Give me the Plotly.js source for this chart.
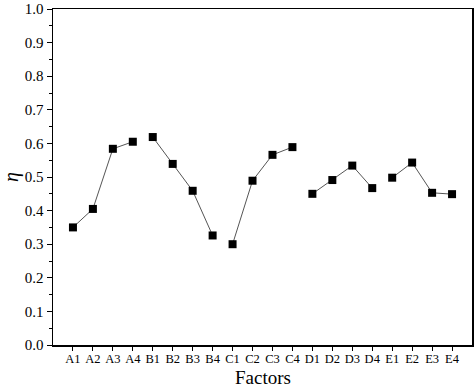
<!DOCTYPE html>
<html><head><meta charset="utf-8">
<script src="https://cdn.plot.ly/plotly-3.0.1.min.js"></script>
<style>html,body{margin:0;padding:0;background:#fff}</style>
</head><body>
<div id="chart" style="width:474px;height:390px"></div>
<script>
const groupA = ["A1","A2","A3","A4"];
const groupB = ["B1","B2","B3","B4"];
const groupC = ["C1","C2","C3","C4"];
const groupD = ["D1","D2","D3","D4"];
const groupE = ["E1","E2","E3","E4"];
const valuesA = [0.350, 0.405, 0.584, 0.605];
const valuesB = [0.619, 0.539, 0.459, 0.326];
const valuesC = [0.300, 0.489, 0.566, 0.589];
const valuesD = [0.450, 0.491, 0.534, 0.467];
const valuesE = [0.498, 0.543, 0.453, 0.449];
const categories = [].concat(groupA, groupB, groupC, groupD, groupE);

const groups = [[groupA, valuesA],[groupB, valuesB],[groupC, valuesC],[groupD, valuesD],[groupE, valuesE]];
const traces = groups.map(g => ({
  x: g[0], y: g[1], type: 'scatter', mode: 'lines+markers',
  line: {color: '#555', width: 1},
  marker: {symbol: 'square', size: 8, color: '#000'},
  showlegend: false, hoverinfo: 'skip'
}));

const fam = 'Liberation Serif, Times New Roman, serif';
const layout = {
  width: 474, height: 390,
  margin: {l: 53, r: 2, t: 9, b: 45},
  paper_bgcolor: '#fff', plot_bgcolor: '#fff',
  font: {family: fam, size: 15, color: '#000'},
  xaxis: {
    type: 'category', categoryorder: 'array', categoryarray: categories,
    range: [-1, 20], showgrid: false, zeroline: false,
    showline: true, linecolor: '#000', linewidth: 1.5, mirror: true,
    ticks: 'outside', ticklen: 4, tickwidth: 1, tickcolor: '#000',
    tickangle: 0, ticklabelstandoff: -3,
    tickfont: {family: fam, size: 12.5, color: '#000'}
  },
  yaxis: {
    range: [0, 1.0001], tick0: 0, dtick: 0.1, tickformat: '.1f',
    showgrid: false, zeroline: false,
    showline: true, linecolor: '#000', linewidth: 1.5, mirror: true,
    ticks: 'outside', ticklen: 5, tickwidth: 1, tickcolor: '#000',
    ticklabeloverflow: 'allow',
    minor: {dtick: 0.05, ticklen: 3, tickwidth: 1, tickcolor: '#000', ticks: 'outside', showgrid: false},
    tickfont: {family: fam, size: 15, color: '#000'},
    title: {text: '<i>η</i>', font: {family: fam, size: 20, color: '#000'}, standoff: 8}
  },
  annotations: [{
    text: 'Factors', xref: 'paper', yref: 'paper', x: 0.5, y: -0.097,
    xanchor: 'center', yanchor: 'middle', showarrow: false, borderpad: 0,
    font: {family: fam, size: 19, color: '#000'}
  }]
};
Plotly.newPlot('chart', traces, layout, {displayModeBar: false, staticPlot: true});
</script>
</body></html>
